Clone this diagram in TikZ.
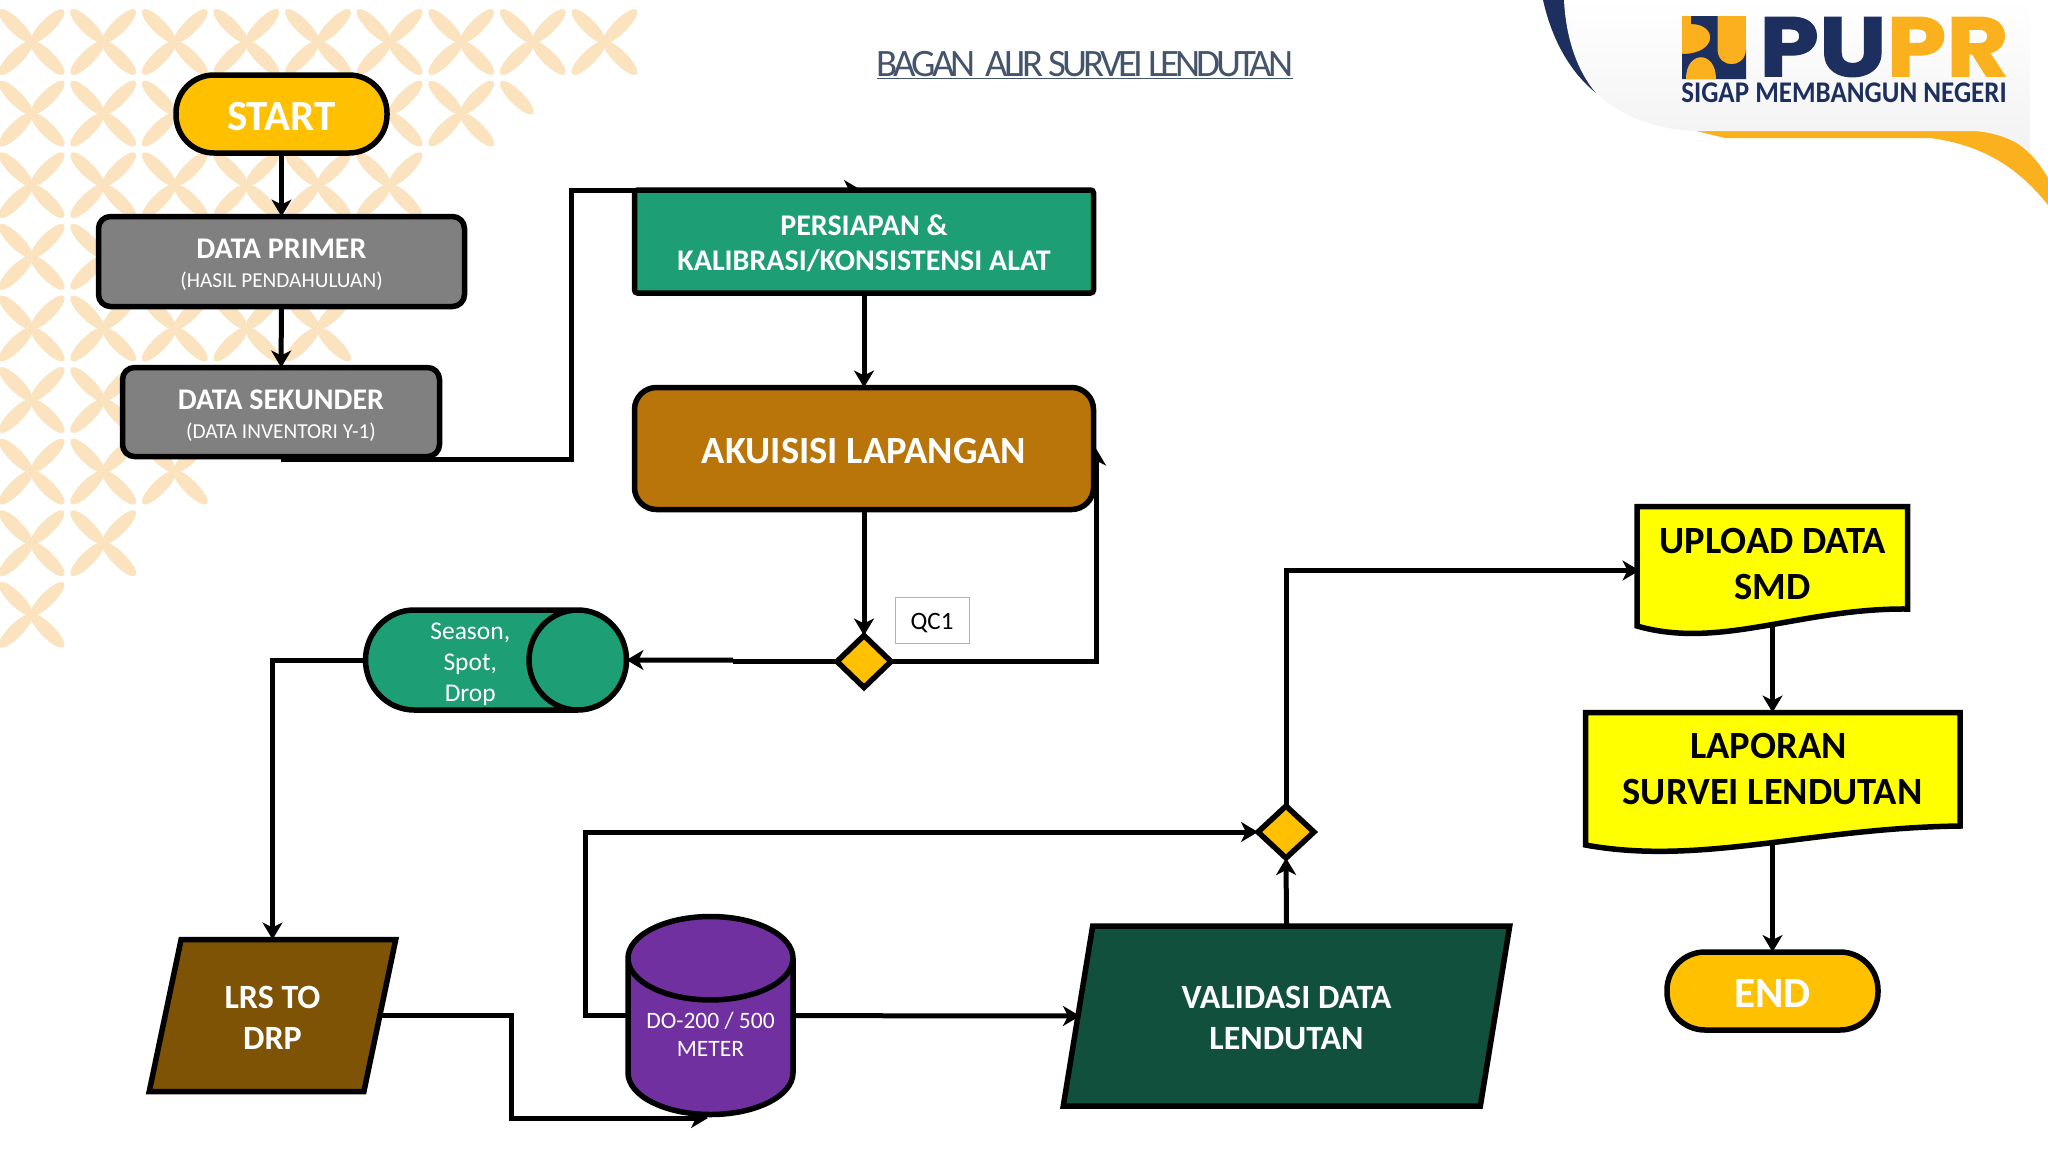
\documentclass[tikz,border=0pt]{standalone}
\usepackage{fontspec}
\setmainfont{Carlito}
\newfontfamily\logofont{Poppins}[BoldFeatures={FakeBold=1.5,FakeStretch=1.14}]
\newfontfamily\mottofont{Carlito}[BoldFeatures={FakeStretch=0.9}]
\usetikzlibrary{arrows.meta,shapes.geometric}
\definecolor{amber}{HTML}{FFC000}
\definecolor{jade}{HTML}{1E9E75}
\definecolor{ochre}{HTML}{B97509}
\definecolor{umber}{HTML}{7F5305}
\definecolor{pine}{HTML}{10503C}
\definecolor{plum}{HTML}{7030A0}
\definecolor{slate}{HTML}{44546A}
\definecolor{navy}{HTML}{1D2F5F}
\definecolor{gold}{HTML}{FBB01E}
\definecolor{petal}{HTML}{FBE3BF}
\definecolor{paper}{HTML}{FFFF00}
\newcommand{\headroom}[1]{\rule{0pt}{#1pt}}
\pgfdeclarelayer{back}
\pgfsetlayers{back,main}
\tikzset{
    box/.style={draw=black,line width=5.5pt,inner sep=0pt,outer sep=0pt,align=center,text=white},
    wire/.style={draw=black,line width=5pt,-{Stealth[length=17pt,width=20pt,inset=5pt]}},
    plainwire/.style={draw=black,line width=5pt},
    flag/.style={draw=black,line width=5.5pt,fill=paper},
    check/.style={box,shape=diamond,fill=amber,minimum width=54pt,minimum height=52pt,aspect=1},
    slanted/.style={box,shape=trapezium,trapezium stretches=true,font=\fontsize{34}{41}\selectfont\bfseries}
}
\begin{document}
\begin{tikzpicture}[x=1pt,y=-1pt]
    \useasboundingbox (0,0) rectangle (2048,1152);
% flow nodes
    \node[box,fill=amber,rounded corners=38pt,minimum width=211pt,minimum height=78pt,
          font=\fontsize{43}{52}\selectfont\bfseries] (start) at (281.5,114) {\headroom{33}START};
    \node[box,fill=gray,rounded corners=12pt,minimum width=366pt,minimum height=90pt,
          font=\fontsize{30}{29}\selectfont] (primer) at (281.5,261.5)
        {\headroom{26}\textbf{DATA PRIMER}\\{\fontsize{21.3}{29}\selectfont (HASIL PENDAHULUAN)}};
    \node[box,fill=gray,rounded corners=12pt,minimum width=317pt,minimum height=89pt,
          font=\fontsize{30}{29}\selectfont] (sekunder) at (281,412)
        {\headroom{26}\textbf{DATA SEKUNDER}\\{\fontsize{21.3}{29}\selectfont (DATA INVENTORI Y-1)}};
    \node[box,fill=jade,rounded corners=3pt,minimum width=459pt,minimum height=103pt,
          font=\fontsize{30}{35}\selectfont\bfseries] (persiapan) at (864,241.5)
        {\headroom{25}PERSIAPAN \&\\KALIBRASI/KONSISTENSI ALAT};
    \node[box,fill=ochre,rounded corners=22pt,minimum width=459pt,minimum height=122pt,
          font=\fontsize{38.5}{46}\selectfont\bfseries] (akuisisi) at (864,448.5) {\headroom{30}AKUISISI LAPANGAN};
    \node[check] (qccheck) at (864,661.5) {};
    \node[draw=gray!60,line width=1pt,inner sep=0pt,minimum width=74pt,minimum height=46pt,
          font=\fontsize{25}{30}\selectfont] (qclabel) at (932,620) {\headroom{22}QC1};
    \node[box,fill=jade,shape=cylinder,aspect=1.07,minimum width=100pt,minimum height=261pt,anchor=shape center,
          font=\fontsize{25.5}{31}\selectfont] (season) at (496,660) {\headroom{25}Season,\\Spot,\\Drop};
    \node[slanted,fill=umber,trapezium left angle=76,trapezium right angle=104,
          minimum width=247pt,minimum height=152pt] (lrs) at (272.5,1015.5) {\headroom{26}LRS TO\\DRP};
    \node[box,fill=plum,shape=cylinder,shape border rotate=90,aspect=0.65,minimum width=165pt,minimum height=198pt,
          anchor=shape center,font=\fontsize{23.5}{27.5}\selectfont] (drum) at (710.5,1015.5)
        {DO-200 / 500\\METER\rule[-7pt]{0pt}{1pt}};
    \node[slanted,fill=pine,trapezium left angle=76.7,trapezium right angle=103.3,
          minimum width=447pt,minimum height=180pt] (validasi) at (1286.5,1016) {\headroom{26}VALIDASI DATA\\LENDUTAN};
    \node[check,minimum width=56pt] (gate) at (1286,832) {};
% document shapes
    \draw[flag] (1637,506.5) -- (1907.5,506.5) -- (1907.5,609)
        .. controls (1800,608) and (1720,650) .. (1637,626) -- cycle;
    \node[inner sep=0pt,outer sep=0pt,align=center,minimum width=266pt,minimum height=110pt,
          font=\fontsize{38.5}{46}\selectfont\bfseries] (upload) at (1772.5,563.5) {UPLOAD DATA\\SMD};
    \draw[flag] (1585.5,712.5) -- (1960,712.5) -- (1960,826)
        .. controls (1810,828) and (1700,866) .. (1585.5,845) -- cycle;
    \node[inner sep=0pt,outer sep=0pt,align=center,minimum width=368pt,minimum height=114pt,
          font=\fontsize{38.5}{46}\selectfont\bfseries] (laporan) at (1772.5,769.5) {LAPORAN\hspace*{8pt}\\SURVEI LENDUTAN};
    \node[box,fill=amber,rounded corners=38pt,minimum width=211pt,minimum height=78pt,
          font=\fontsize{43}{52}\selectfont\bfseries] (finish) at (1772.5,991) {\headroom{33}END};
% free corners of the wires
    \coordinate (sekunderbend) at (571,190);
    \coordinate (drumbend) at (511,1118);
    \coordinate (drumin) at (708,1118);
    \coordinate (loopbend) at (585,832);
    \coordinate (jogin) at (733,661.5);
    \coordinate (jogout) at (733,660);
    \begin{pgfonlayer}{back}
% batik pattern
        \foreach \lastcol [count=\row from 0] in {8,6,5,4,4,3,2,1,0}
            \foreach \col in {0,...,\lastcol}
                \foreach \dx/\dy/\ang in {16/16/-45,-16/16/45,16/-16/45,-16/-16/-45}
                    \fill[petal] ({31.6+71.6*\col+\dx},{42+71.6*\row+\dy}) ellipse[x radius=23,y radius=7,rotate=\ang];
        \fill[petal] ({31.6+71.6*7-16},{42+71.6-16}) ellipse[x radius=23,y radius=7,rotate=-45];
% connectors
        \draw[wire] (start) -- (primer);
        \draw[wire] (primer) -- (sekunder);
        \draw[wire] ([yshift=-3pt]sekunder.south) -| (sekunderbend) -- ([xshift=-3pt]persiapan.north);
        \draw[wire] (persiapan) -- (akuisisi);
        \draw[wire] (akuisisi) -- (qccheck);
        \draw[wire] (qccheck.east) -| ([xshift=2.5pt]akuisisi.east);
        \draw[plainwire] (qccheck.west) -- (jogin);
        \draw[wire] (jogout) -- (season.east);
        \draw[wire] (season.west) -| (lrs.north);
        \draw[wire] (lrs.east) -| (drumbend) -- (drumin);
        \draw[wire] (drum.shape center) -- ([xshift=2pt]validasi.west);
        \draw[wire] (drum.shape center) -| (loopbend) -- (gate.west);
        \draw[wire] (validasi.north) -- (gate.south);
        \draw[wire] (gate.north) |- ([yshift=-7pt]upload.west);
        \draw[wire] (upload) -- (laporan.north);
        \draw[wire] (laporan) -- (finish);
    \end{pgfonlayer}
% logo panel
    \fill[navy] (1543,0) .. controls (1552,40) and (1570,72) .. (1596,93) -- (1620,60) -- (1564,0) -- cycle;
    \fill[gold] (1692,130) -- (1975,130) .. controls (2010,132) and (2032,150) .. (2048,178) -- (2048,205)
        .. controls (2020,170) and (1985,145) .. (1930,138) -- (1725,138) -- cycle;
    \shade[top color=white,bottom color=black!5] (1564,0) .. controls (1566,40) and (1578,72) .. (1596,93)
        .. controls (1620,115) and (1650,128) .. (1692,131) -- (1975,131) .. controls (2000,133) and (2018,142) .. (2030,152)
        -- (2030,0) -- cycle;
    \fill[gold] (1682,16) rectangle (1746,79);
    \fill[navy] (1691,16) -- (1717.5,16) -- (1717.5,50) .. controls (1718,69) and (1745,69) .. (1746,50)
        -- (1746,79) -- (1682,79) -- (1682,54) .. controls (1718,54) and (1718,24) .. (1691,24) -- cycle;
    \fill[gold] (1686,79) .. controls (1686,50) and (1716,50) .. (1716,79) -- cycle;
    \node[inner sep=0pt,font=\logofont\fontsize{84}{90}\selectfont\bfseries] (pupr) at (1884,47)
        {\textcolor{navy}{PU}\textcolor{gold}{PR}};
    \node[inner sep=0pt,text=navy,font=\mottofont\fontsize{30}{34}\selectfont\bfseries] (motto) at (1844,93) {SIGAP MEMBANGUN NEGERI};
% title
    \node[inner sep=0pt,text=slate,font=\fontsize{38.8}{46}\selectfont\addfontfeatures{LetterSpace=-10}] (title) at (1085,65)
        {\underline{BAGAN\ \ ALIR SURVEI LENDUTAN}};
\end{tikzpicture}
\end{document}
